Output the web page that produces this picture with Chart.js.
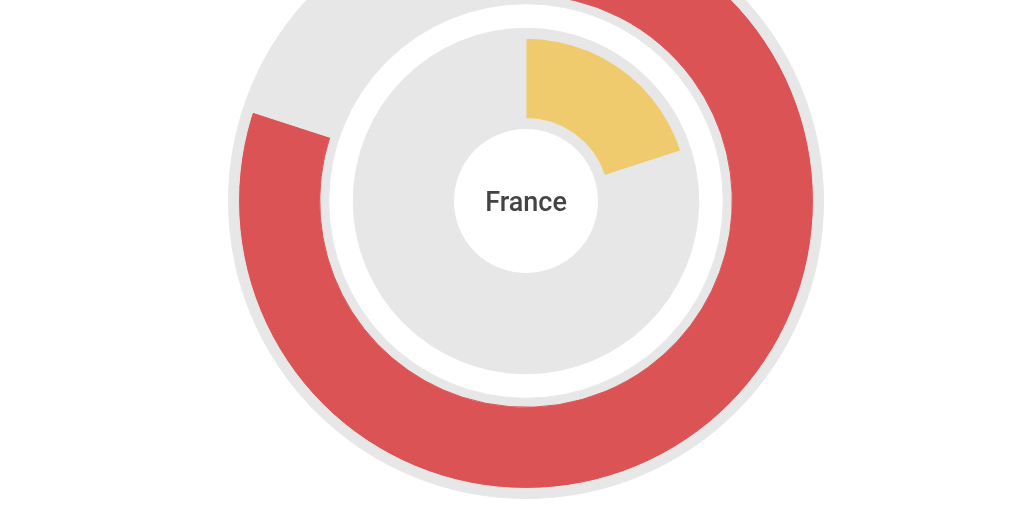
<!DOCTYPE html>
<html>
<head>
<meta charset="utf-8">
<script src="https://cdn.jsdelivr.net/npm/chart.js@4/dist/chart.umd.min.js"></script>
<style>
  html, body { margin: 0; padding: 0; width: 1024px; height: 512px; overflow: hidden; background: #ffffff; }
  #wrap { position: absolute; left: 228px; top: -97px; width: 596px; height: 596px; }
  #label { position: absolute; left: 526px; top: 202px; transform: translate(-50%, -50%);
           font-family: Roboto, "Noto Sans", sans-serif; font-weight: 500; font-size: 27px;
           color: #444444; line-height: normal; white-space: nowrap; }
</style>
</head>
<body>
<div id="wrap"><canvas id="c"></canvas></div>
<div id="label"></div>
<script>
// ---- data ----
const centerLabel = 'France';
const segmentLabels = ['Value', 'Remaining'];
const outerValues = [80, 20];   // red ring (percent)
const innerValues = [20, 80];   // yellow ring (percent)
const fullRing = [100];

// ---- styles ----
const GRAY = '#e7e7e7';
const RED = '#dc5356';
const YELLOW = '#efcb6d';

document.getElementById('label').textContent = centerLabel;

function ring(data, colors, weight) {
  return {
    data: data,
    backgroundColor: colors,
    borderColor: colors,
    borderWidth: 1,
    hoverBorderWidth: 1,
    hoverOffset: 0,
    weight: weight
  };
}

new Chart(document.getElementById('c'), {
  type: 'doughnut',
  data: {
    labels: segmentLabels,
    datasets: [
      ring(fullRing, [GRAY], 10),
      ring(outerValues, [RED, GRAY], 81),
      ring(fullRing, [GRAY], 9),
      ring(fullRing, ['rgba(0,0,0,0)'], 24.5),
      ring(fullRing, [GRAY], 10),
      ring(innerValues, [YELLOW, GRAY], 79),
      ring(fullRing, [GRAY], 11)
    ]
  },
  options: {
    responsive: true,
    maintainAspectRatio: false,
    animation: false,
    events: [],
    cutout: 72.5,
    layout: { padding: 0 },
    plugins: {
      legend: { display: false },
      tooltip: { enabled: false },
      title: { display: false }
    }
  }
});
</script>
</body>
</html>
